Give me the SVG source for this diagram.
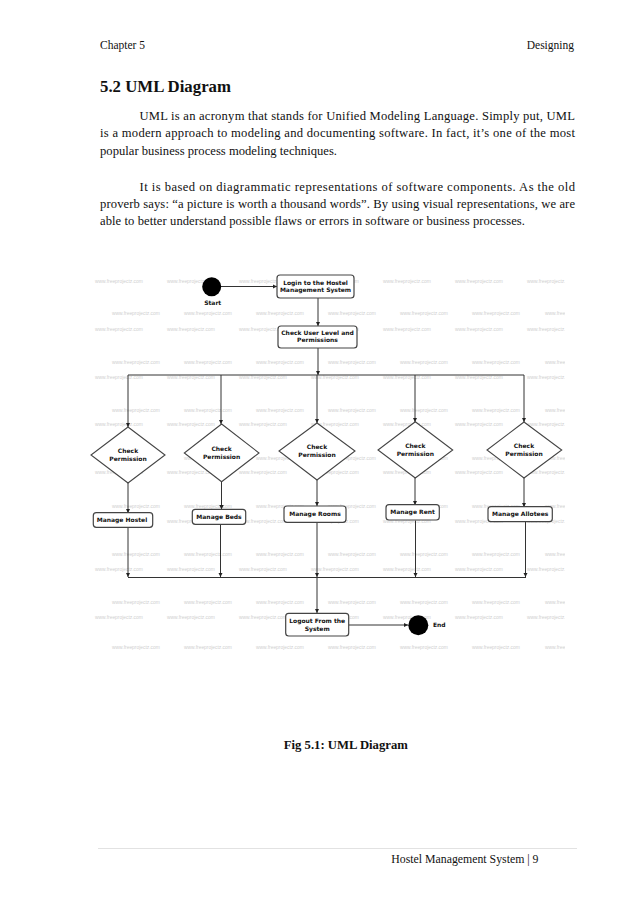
<svg xmlns="http://www.w3.org/2000/svg" xmlns:xlink="http://www.w3.org/1999/xlink" width="638" height="902" viewBox="0 0 638 902">
<style>
.pg{font-family:"Liberation Serif","Times New Roman",serif;fill:#111;}
.dg{font-family:"DejaVu Sans","Liberation Sans",sans-serif;font-weight:bold;font-size:6px;fill:#111;text-anchor:middle;}
.wm{font-family:"Liberation Sans",Arial,sans-serif;font-size:4.9px;fill:#d0d0d0;}
.box{fill:#fff;stroke:#444;stroke-width:1.2;}
.dia{fill:#fff;stroke:#444;stroke-width:1.1;}
.ln{fill:none;stroke:#333;stroke-width:1;}
</style>
<defs>
<marker id="arr" markerWidth="5" markerHeight="5" refX="4.5" refY="2.25" orient="auto" markerUnits="userSpaceOnUse"><path d="M0,0 L4.5,2.25 L0,4.5 z" fill="#222"/></marker>
<clipPath id="img"><rect x="93" y="270" width="472" height="385"/></clipPath>
<g id="wmA"><text class="wm" x="95" y="0">www.freeprojectz.com</text><text class="wm" x="167" y="0">www.freeprojectz.com</text><text class="wm" x="239" y="0">www.freeprojectz.com</text><text class="wm" x="311" y="0">www.freeprojectz.com</text><text class="wm" x="383" y="0">www.freeprojectz.com</text><text class="wm" x="455" y="0">www.freeprojectz.com</text><text class="wm" x="527" y="0">www.freeprojectz.com</text></g>
<g id="wmB"><text class="wm" x="112" y="0">www.freeprojectz.com</text><text class="wm" x="184" y="0">www.freeprojectz.com</text><text class="wm" x="256" y="0">www.freeprojectz.com</text><text class="wm" x="328" y="0">www.freeprojectz.com</text><text class="wm" x="400" y="0">www.freeprojectz.com</text><text class="wm" x="472" y="0">www.freeprojectz.com</text><text class="wm" x="545" y="0">www.freeprojectz.com</text></g>
</defs>
<rect width="638" height="902" fill="#fff"/>

<g id="page-text">
<text class="pg" x="100" y="49" font-size="11.5">Chapter 5</text>
<text class="pg" x="574" y="49" font-size="11.5" style="text-anchor:end">Designing</text>
<text class="pg" x="100" y="92" font-size="16.8" font-weight="bold">5.2 UML Diagram</text>
<text class="pg" x="139.5" y="119.5" font-size="12.6" textLength="435.5" lengthAdjust="spacing">UML is an acronym that stands for Unified Modeling Language. Simply put, UML</text>
<text class="pg" x="100" y="137" font-size="12.6" textLength="475" lengthAdjust="spacing">is a modern approach to modeling and documenting software. In fact, it’s one of the most</text>
<text class="pg" x="100" y="154.5" font-size="12.6" textLength="237" lengthAdjust="spacing">popular business process modeling techniques.</text>
<text class="pg" x="139.5" y="190.5" font-size="12.6" textLength="435.5" lengthAdjust="spacing">It is based on diagrammatic representations of software components. As the old</text>
<text class="pg" x="100" y="207.5" font-size="12.6" textLength="475" lengthAdjust="spacing">proverb says: “a picture is worth a thousand words”. By using visual representations, we are</text>
<text class="pg" x="100" y="224.5" font-size="12.6" textLength="425" lengthAdjust="spacing">able to better understand possible flaws or errors in software or business processes.</text>
<text class="pg" x="345.8" y="748.5" font-size="12.7" font-weight="bold" style="text-anchor:middle">Fig 5.1: UML Diagram</text>
<line x1="98" y1="848.5" x2="577" y2="848.5" stroke="#e2e2e2" stroke-width="1"/>
<text class="pg" x="538.5" y="863" font-size="11.8" style="text-anchor:end">Hostel Management System | 9</text>
</g>

<g id="watermarks" clip-path="url(#img)">
<use xlink:href="#wmA" y="282.7"/><use xlink:href="#wmA" y="330.7"/><use xlink:href="#wmA" y="378.7"/><use xlink:href="#wmA" y="425.7"/><use xlink:href="#wmA" y="473.7"/><use xlink:href="#wmA" y="522.7"/><use xlink:href="#wmA" y="570.7"/><use xlink:href="#wmA" y="618.7"/>
<use xlink:href="#wmB" y="314.7"/><use xlink:href="#wmB" y="363.7"/><use xlink:href="#wmB" y="411.7"/><use xlink:href="#wmB" y="459.7"/><use xlink:href="#wmB" y="507.7"/><use xlink:href="#wmB" y="555.7"/><use xlink:href="#wmB" y="603.7"/><use xlink:href="#wmB" y="648.7"/>
</g>

<g id="connectors">
<path class="ln" d="M221,286.5 H277" marker-end="url(#arr)"/>
<path class="ln" d="M318,298 V326" marker-end="url(#arr)"/>
<path class="ln" d="M318,348 V375" marker-end="url(#arr)"/>
<path class="ln" d="M128,375 H524" stroke-width="1.2"/>
<path class="ln" d="M128,375 V427" marker-end="url(#arr)"/>
<path class="ln" d="M221,375 V424" marker-end="url(#arr)"/>
<path class="ln" d="M317,375 V423" marker-end="url(#arr)"/>
<path class="ln" d="M415,375 V422" marker-end="url(#arr)"/>
<path class="ln" d="M524,375 V422" marker-end="url(#arr)"/>
<path class="ln" d="M128,483 V513" marker-end="url(#arr)"/>
<path class="ln" d="M221.5,481.5 V509.5" marker-end="url(#arr)"/>
<path class="ln" d="M317,480 V506" marker-end="url(#arr)"/>
<path class="ln" d="M415,478 V505" marker-end="url(#arr)"/>
<path class="ln" d="M524,478 V507" marker-end="url(#arr)"/>
<path class="ln" d="M128,527.5 V577" marker-end="url(#arr)"/>
<path class="ln" d="M220.5,524.5 V577" marker-end="url(#arr)"/>
<path class="ln" d="M317,522.5 V577" marker-end="url(#arr)"/>
<path class="ln" d="M415.5,520.5 V577" marker-end="url(#arr)"/>
<path class="ln" d="M525.5,522 V577" marker-end="url(#arr)"/>
<path class="ln" d="M128,577.5 H526" stroke-width="1.2"/>
<path class="ln" d="M317,577.5 V613" marker-end="url(#arr)"/>
<path class="ln" d="M349,625 H408" marker-end="url(#arr)"/>
</g>

<g id="start">
<circle cx="211.7" cy="286.7" r="9.5" fill="#000"/>
<text class="dg" x="212.7" y="304.8">Start</text>
</g>
<g id="login">
<rect class="box" x="277" y="275" width="77" height="23" rx="3"/>
<text class="dg" x="315.5" y="284.8">Login to the Hostel</text>
<text class="dg" x="315.5" y="291.6">Management System</text>
</g>
<g id="check-user">
<rect class="box" x="278" y="326" width="79" height="22" rx="3"/>
<text class="dg" x="317.5" y="334.8">Check User Level and</text>
<text class="dg" x="317.5" y="342.1">Permissions</text>
</g>

<g id="decision-1">
<polygon class="dia" points="128,427 165,455 128,483 91,455"/>
<text class="dg" x="128" y="453.1">Check</text>
<text class="dg" x="128" y="460.8">Permission</text>
</g>
<g id="decision-2">
<polygon class="dia" points="221.6,424 259,453 221.6,481.7 184.3,453"/>
<text class="dg" x="221.6" y="451.1">Check</text>
<text class="dg" x="221.6" y="458.8">Permission</text>
</g>
<g id="decision-3">
<polygon class="dia" points="317,423 355,451 317,480 279,451"/>
<text class="dg" x="317" y="449.1">Check</text>
<text class="dg" x="317" y="456.8">Permission</text>
</g>
<g id="decision-4">
<polygon class="dia" points="415.3,421.7 452.7,450 415.3,478 378,450"/>
<text class="dg" x="415.3" y="448.2">Check</text>
<text class="dg" x="415.3" y="455.8">Permission</text>
</g>
<g id="decision-5">
<polygon class="dia" points="524,422 561.7,450 524,478 487,450"/>
<text class="dg" x="524" y="448.2">Check</text>
<text class="dg" x="524" y="455.8">Permission</text>
</g>

<g id="manage-hostel">
<rect class="box" x="93.3" y="512.7" width="59.4" height="14.6" rx="3"/>
<text class="dg" x="122" y="522.1">Manage Hostel</text>
</g>
<g id="manage-beds">
<rect class="box" x="192.3" y="509.3" width="53.4" height="15" rx="3"/>
<text class="dg" x="219" y="518.9">Manage Beds</text>
</g>
<g id="manage-rooms">
<rect class="box" x="284" y="506" width="62" height="16.3" rx="3"/>
<text class="dg" x="315" y="516.2">Manage Rooms</text>
</g>
<g id="manage-rent">
<rect class="box" x="386" y="504.7" width="53.3" height="15.3" rx="3"/>
<text class="dg" x="412.6" y="514.4">Manage Rent</text>
</g>
<g id="manage-allotees">
<rect class="box" x="488" y="506.7" width="64.3" height="15" rx="3"/>
<text class="dg" x="520.2" y="516.2">Manage Allotees</text>
</g>

<g id="logout">
<rect class="box" x="285.7" y="613.3" width="63" height="22.7" rx="3"/>
<text class="dg" x="317.2" y="623.1">Logout From the</text>
<text class="dg" x="317.2" y="630.8">System</text>
</g>
<g id="end">
<circle cx="418.3" cy="625.3" r="10" fill="#000"/>
<text class="dg" x="433" y="627.4" style="text-anchor:start">End</text>
</g>
</svg>
